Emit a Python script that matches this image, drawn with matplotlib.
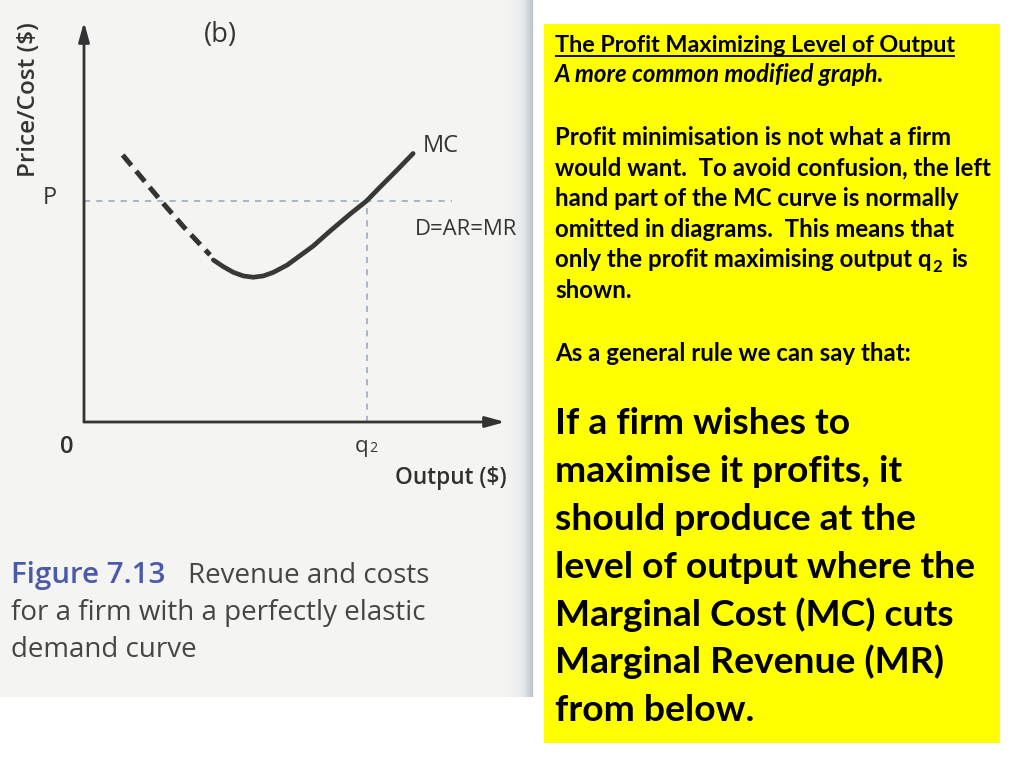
import matplotlib
matplotlib.use("Agg")
import matplotlib.pyplot as plt
import numpy as np
from matplotlib.patches import Rectangle
from matplotlib.colors import LinearSegmentedColormap

# ---------------- data ----------------
q2 = 10.0          # profit maximising output
price = 10.0       # P = D = AR = MR
mc_dash_x = [1.37, 2.75, 3.52, 4.46]
mc_dash_y = [12.08, 9.97, 8.84, 7.56]
mc_solid_x = [4.58, 4.93, 5.29, 5.64, 5.99, 6.35, 6.70, 7.19, 7.65, 8.11, 8.71, 9.42,
              10.0, 10.48, 11.08, 11.65]
mc_solid_y = [7.33, 7.03, 6.77, 6.61, 6.55, 6.61, 6.77, 7.10, 7.53, 7.96, 8.64, 9.41,
              10.0, 10.63, 11.40, 12.15]
demand_end_x = 13.03

panel_title = "The Profit Maximizing Level of Output"
panel_subtitle = "A more common modified graph."
panel_body = [
    "Profit minimisation is not what a firm",
    "would want.  To avoid confusion, the left",
    "hand part of the MC curve is normally",
    "omitted in diagrams.  This means that",
]
panel_body_q = ("only the profit maximising output q", "2", "is")
panel_body_end = "shown."
panel_rule = "As a general rule we can say that:"
panel_big = [
    "If a firm wishes to",
    "maximise it profits, it",
    "should produce at the",
    "level of output where the",
    "Marginal Cost (MC) cuts",
    "Marginal Revenue (MR)",
    "from below.",
]
caption_fig = "Figure 7.13"
caption_lines = ["Revenue and costs", "for a firm with a perfectly elastic", "demand curve"]

# ---------------- figure ----------------
W, H = 1024, 768
fig = plt.figure(figsize=(W / 100, H / 100), dpi=100, facecolor="white")
bg = fig.add_axes([0, 0, 1, 1])
bg.axis("off")
renderer = fig.canvas.get_renderer()

# scanned page area
bg.add_patch(Rectangle((0, 0), 534, 697, facecolor="#f4f4f2", edgecolor="none", zorder=0))
grad = np.tile(np.linspace(0, 1, 64) ** 1.8, (10, 1))
gcmap = LinearSegmentedColormap.from_list("g", ["#f4f4f2", "#e2e7e9", "#b9c3ca"])
bg.imshow(grad, cmap=gcmap, extent=[505, 533, 697, 0], aspect="auto", zorder=1)
bg.set_xlim(0, W)
bg.set_ylim(H, 0)

# yellow panel
bg.add_patch(Rectangle((544, 24), 456, 719, facecolor="#ffff00", edgecolor="none", zorder=0))

def fit(t, target):
    fs = t.get_fontsize()
    w = t.get_window_extent(renderer=renderer).width
    t.set_fontsize(fs * target / w)
    return t.get_fontsize()

def fit_h(t, target):
    fs = t.get_fontsize()
    h = t.get_window_extent(renderer=renderer).height
    t.set_fontsize(fs * target / h)
    return t.get_fontsize()

# ---------------- graph ----------------
ox, oy = 84, 422
xs_px, ys_px = 28.25, 22.1
ax = fig.add_axes([ox / W, (H - oy) / H, 421 / W, 400 / H])
ax.set_xlim(0, 421 / xs_px)
ax.set_ylim(0, 400 / ys_px)
ax.patch.set_alpha(0)
for s in ax.spines.values():
    s.set_visible(False)
ax.set_xticks([])
ax.set_yticks([])
axc = "#333333"
for tip in [(0, 1.0), (1.0, 0)]:
    ax.annotate("", xy=tip, xytext=(0, 0), xycoords="axes fraction",
                arrowprops=dict(arrowstyle="-|>,head_length=0.9,head_width=0.25", lw=2.0,
                                color=axc, mutation_scale=13, shrinkA=0, shrinkB=0))
dcol = "#95a3bd"
ax.plot([0, demand_end_x], [price, price], color=dcol, lw=1.1, ls=(0, (4, 4)), zorder=2)
ax.plot([q2, q2], [0, price], color=dcol, lw=1.1, ls=(0, (4, 4)), zorder=2)
ax.plot(mc_dash_x, mc_dash_y, color="#333333", lw=3.6, ls=(0, (2.7, 1.5)),
        solid_capstyle="butt", zorder=3)
ax.plot(mc_solid_x, mc_solid_y, color="#383838", lw=3.4, solid_capstyle="round",
        solid_joinstyle="round", zorder=3)

gfont = "Open Sans"
gcol = "#353535"
gw = "medium"
t = bg.text(204, 42, "(b)", family=gfont, fontsize=18, color=gcol, va="baseline", ha="left",
            weight=gw)
fit(t, 33)
t = bg.text(35, 100, "Price/Cost ($)", family=gfont, fontsize=18, color=gcol, rotation=90,
            va="baseline", ha="center", rotation_mode="anchor", weight="semibold")
fit_h(t, 155)
tmc = bg.text(423, 152, "MC", family=gfont, fontsize=16, color=gcol, va="baseline", ha="left")
mfs = fit(tmc, 36)
bg.text(43, 204, "P", family=gfont, fontsize=mfs, color=gcol, va="baseline", ha="left")
t = bg.text(415, 235, "D=AR=MR", family=gfont, fontsize=15, color=gcol, va="baseline", ha="left")
fit(t, 102)
bg.text(60, 453, "0", family=gfont, fontsize=mfs, color="#2f2f2f", va="baseline",
        ha="left", weight="semibold")
tq = bg.text(355, 452, "q", family=gfont, fontsize=mfs * 0.95, color=gcol, va="baseline",
             ha="left")
x1 = tq.get_window_extent(renderer=renderer).x1
bg.text(x1 + 1, 452, "2", family=gfont, fontsize=mfs * 0.6, color=gcol,
        va="baseline", ha="left")
t = bg.text(507, 484, "Output ($)", family=gfont, fontsize=17, color="#303030",
            va="baseline", ha="right", weight="semibold")
fit(t, 112)

# caption
tf = bg.text(11, 583, caption_fig, family=gfont, fontsize=20, color="#4a5aa8",
             va="baseline", ha="left", weight="semibold")
fit(tf, 154)
t2 = bg.text(11, 620, caption_lines[1], family=gfont, fontsize=20, color="#454545",
             va="baseline", ha="left")
cfs = fit(t2, 415)
bg.text(188, 583, caption_lines[0], family=gfont, fontsize=cfs, color="#454545",
        va="baseline", ha="left")
bg.text(11, 657, caption_lines[2], family=gfont, fontsize=cfs, color="#454545",
        va="baseline", ha="left")

# ---------------- yellow panel text ----------------
pfont = "Lato"
X0 = 555
tb = bg.text(X0, 145, panel_body[0], family=pfont, weight="bold", fontsize=15, color="black",
             va="baseline", ha="left")
sfs = fit(tb, 396)
tt = bg.text(X0, 52, panel_title, family=pfont, weight="bold", fontsize=sfs, color="black",
             va="baseline", ha="left")
fit(tt, 401)
ex = tt.get_window_extent(renderer=renderer)
bg.plot([X0, X0 + ex.width], [55.5, 55.5], color="black", lw=1.3, solid_capstyle="butt")
bg.text(X0, 82.5, panel_subtitle, family=pfont, weight="bold", style="italic", fontsize=sfs,
        color="black", va="baseline", ha="left")
for i, line in enumerate(panel_body[1:]):
    bg.text(X0, 175.5 + 30.6 * i, line, family=pfont, weight="bold", fontsize=sfs,
            color="black", va="baseline", ha="left")
ta = bg.text(X0, 267.3, panel_body_q[0], family=pfont, weight="bold", fontsize=sfs,
             color="black", va="baseline", ha="left")
xa = ta.get_window_extent(renderer=renderer).x1
tsub = bg.text(xa + 1, 272.5, panel_body_q[1], family=pfont, weight="bold",
               fontsize=sfs * 0.7, color="black", va="baseline", ha="left")
xsub = tsub.get_window_extent(renderer=renderer).x1
bg.text(xsub + 10, 267.3, panel_body_q[2], family=pfont, weight="bold", fontsize=sfs,
        color="black", va="baseline", ha="left")
bg.text(X0, 297.8, panel_body_end, family=pfont, weight="bold", fontsize=sfs,
        color="black", va="baseline", ha="left")
bg.text(X0, 360.7, panel_rule, family=pfont, weight="bold", fontsize=sfs,
        color="black", va="baseline", ha="left")

tbig = bg.text(X0, 578.3, panel_big[3], family=pfont, weight="bold", fontsize=26,
               color="black", va="baseline", ha="left")
bfs = fit(tbig, 420)
for i, line in enumerate(panel_big):
    if i == 3:
        continue
    bg.text(X0, 434.3 + 47.8 * i, line, family=pfont, weight="bold", fontsize=bfs,
            color="black", va="baseline", ha="left")

fig.savefig("out.png", dpi=100, facecolor="white")
